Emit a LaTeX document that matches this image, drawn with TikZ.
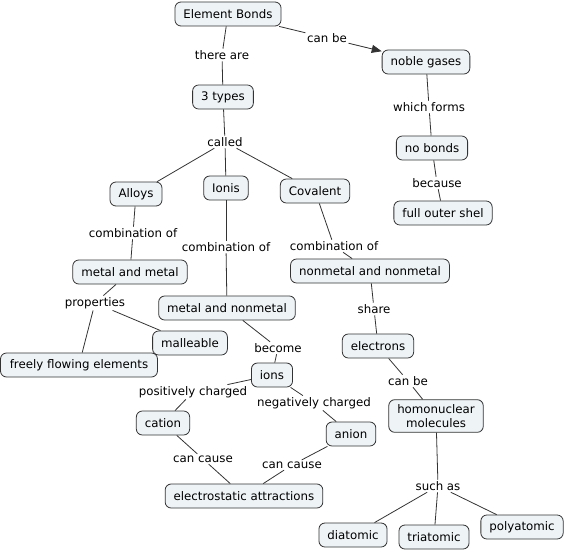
\documentclass[tikz,border=0pt]{standalone}
\usepackage{fontspec}
\setmainfont{DejaVu Sans}
\usepackage{tikz}
\usetikzlibrary{arrows.meta}
\usetikzlibrary {positioning}
\definecolor{conceptfill}{HTML}{EEF3F6}
\definecolor{conceptline}{HTML}{333333}
\tikzset{concept node/.style={rectangle,rounded corners=6pt,draw=conceptline,fill=conceptfill,line width=0.8pt,minimum height=24pt,inner xsep=8.5pt,inner ysep=5pt,align=center,font=\fontsize{11.8pt}{13.5pt}\selectfont}}
\tikzset{link node/.style={fill=white,inner sep=1.5pt,font=\fontsize{11.8pt}{13.5pt}\selectfont}}

\begin{document}
\begin{tikzpicture}[x=1pt,y=-1pt,on grid]
    \useasboundingbox (0,0) rectangle (564,551);
    	\node[concept node] (bonds) at (228,14) {Element Bonds};
    	\node[link node] (thereare) [below left = 41pt and 6pt of bonds] {there are};
    	\node[concept node] (types) [below right = 42pt and 1pt of thereare] {3 types};
    	\node[link node] (canbe) [below right = 24pt and 99pt of bonds] {can be};
    	\node[concept node] (noble) [below right = 24pt and 99pt of canbe] {noble gases};
    	\node[link node] (forms) [below right = 45pt and 3pt of noble] {which forms};
    	\node[concept node] (nobonds) [below right = 41pt and 3pt of forms] {no bonds};
    	\node[link node] (because) [below right = 35pt and 5pt of nobonds] {because};
    	\node[concept node] (shell) [below right = 30pt and 6pt of because] {full outer shel};
    	\node[link node] (called) [below right = 45pt and 2pt of types] {called};
    	\node[concept node] (alloys) [below left = 52pt and 89pt of called] {Alloys};
    	\node[concept node] (ionis) [below right = 46pt and 1pt of called] {Ionis};
    	\node[concept node] (covalent) [below right = 49pt and 90pt of called] {Covalent};
    	\node[link node] (combA) [below left = 39pt and 3pt of alloys] {combination of};
    	\node[concept node] (metalmetal) [below left = 39pt and 3pt of combA] {metal and metal};
    	\node[link node] (combI) [below = 59pt of ionis] {combination of};
    	\node[concept node] (metalnon) [below right = 61pt and 1pt of combI] {metal and nonmetal};
    	\node[link node] (combC) [below right = 55pt and 19pt of covalent] {combination of};
    	\node[concept node] (nonnon) [below right = 25pt and 36pt of combC] {nonmetal and nonmetal};
    	\node[link node] (props) [below left = 31pt and 35pt of metalmetal] {properties};
    	\node[concept node] (malleable) [below right = 40pt and 95pt of props] {malleable};
    	\node[concept node,minimum width=157pt] (freely) [below left = 62pt and 16pt of props] {freely flowing elements};
    	\node[link node] (share) [below right = 38pt and 4pt of nonnon] {share};
    	\node[concept node] (electrons) [below right = 37pt and 4pt of share] {electrons};
    	\node[link node] (become) [below right = 40pt and 51pt of metalnon] {become};
    	\node[concept node] (ions) [below left = 27pt and 6pt of become] {ions};
    	\node[link node] (canbe2) [below right = 35pt and 30pt of electrons] {can be};
    	\node[concept node] (homo) [below right = 35pt and 28pt of canbe2] {homonuclear\\molecules};
    	\node[link node] (positive) [below left = 17pt and 79pt of ions] {positively charged};
    	\node[link node] (negative) [below right = 28pt and 42pt of ions] {negatively charged};
    	\node[concept node] (cation) [below left = 31pt and 30pt of positive] {cation};
    	\node[concept node] (anion) [below right = 31pt and 37pt of negative] {anion};
    	\node[link node] (causeC) [below right = 36pt and 40pt of cation] {can cause};
    	\node[link node] (causeA) [below left = 31pt and 59pt of anion] {can cause};
    	\node[concept node] (electro) [below right = 37pt and 41pt of causeC] {electrostatic attractions};
    	\node[link node] (suchas) [below right = 70pt and 2pt of homo] {such as};
    	\node[concept node] (diatomic) [below left = 49pt and 85pt of suchas] {diatomic};
    	\node[concept node] (triatomic) [below left = 51pt and 4pt of suchas] {triatomic};
    	\node[concept node] (polyatomic) [below right = 41pt and 84pt of suchas] {polyatomic};
    
    	\path [draw=conceptline,line width=0.8pt]
    	(bonds) edge (thereare) (thereare) edge (types)
    	(bonds) edge (canbe)
    	(noble) edge (forms) (forms) edge (nobonds)
    	(nobonds) edge (because) (because) edge (shell)
    	(types) edge (called)
    	(called) edge (alloys) (called) edge (ionis) (called) edge (covalent)
    	(alloys) edge (combA) (combA) edge (metalmetal)
    	(ionis) edge (combI) (combI) edge (metalnon)
    	(covalent) edge (combC) (combC) edge (nonnon)
    	(metalmetal) edge (props) (props) edge (malleable) (props) edge (freely)
    	(nonnon) edge (share) (share) edge (electrons)
    	(metalnon) edge (become) (become) edge (ions)
    	(electrons) edge (canbe2) (canbe2) edge (homo)
    	(ions) edge (positive) (positive) edge (cation)
    	(ions) edge (negative) (negative) edge (anion)
    	(cation) edge (causeC) (causeC) edge (electro)
    	(anion) edge (causeA) (causeA) edge (electro)
    	(homo) edge (suchas)
    	(suchas) edge (diatomic) (suchas) edge (triatomic) (suchas) edge (polyatomic);
    	\draw [-{Triangle[length=10pt,width=8pt]},draw=conceptline,fill=conceptline,line width=0.8pt] (canbe) -- (noble);
    \end{tikzpicture}
\end{document}
